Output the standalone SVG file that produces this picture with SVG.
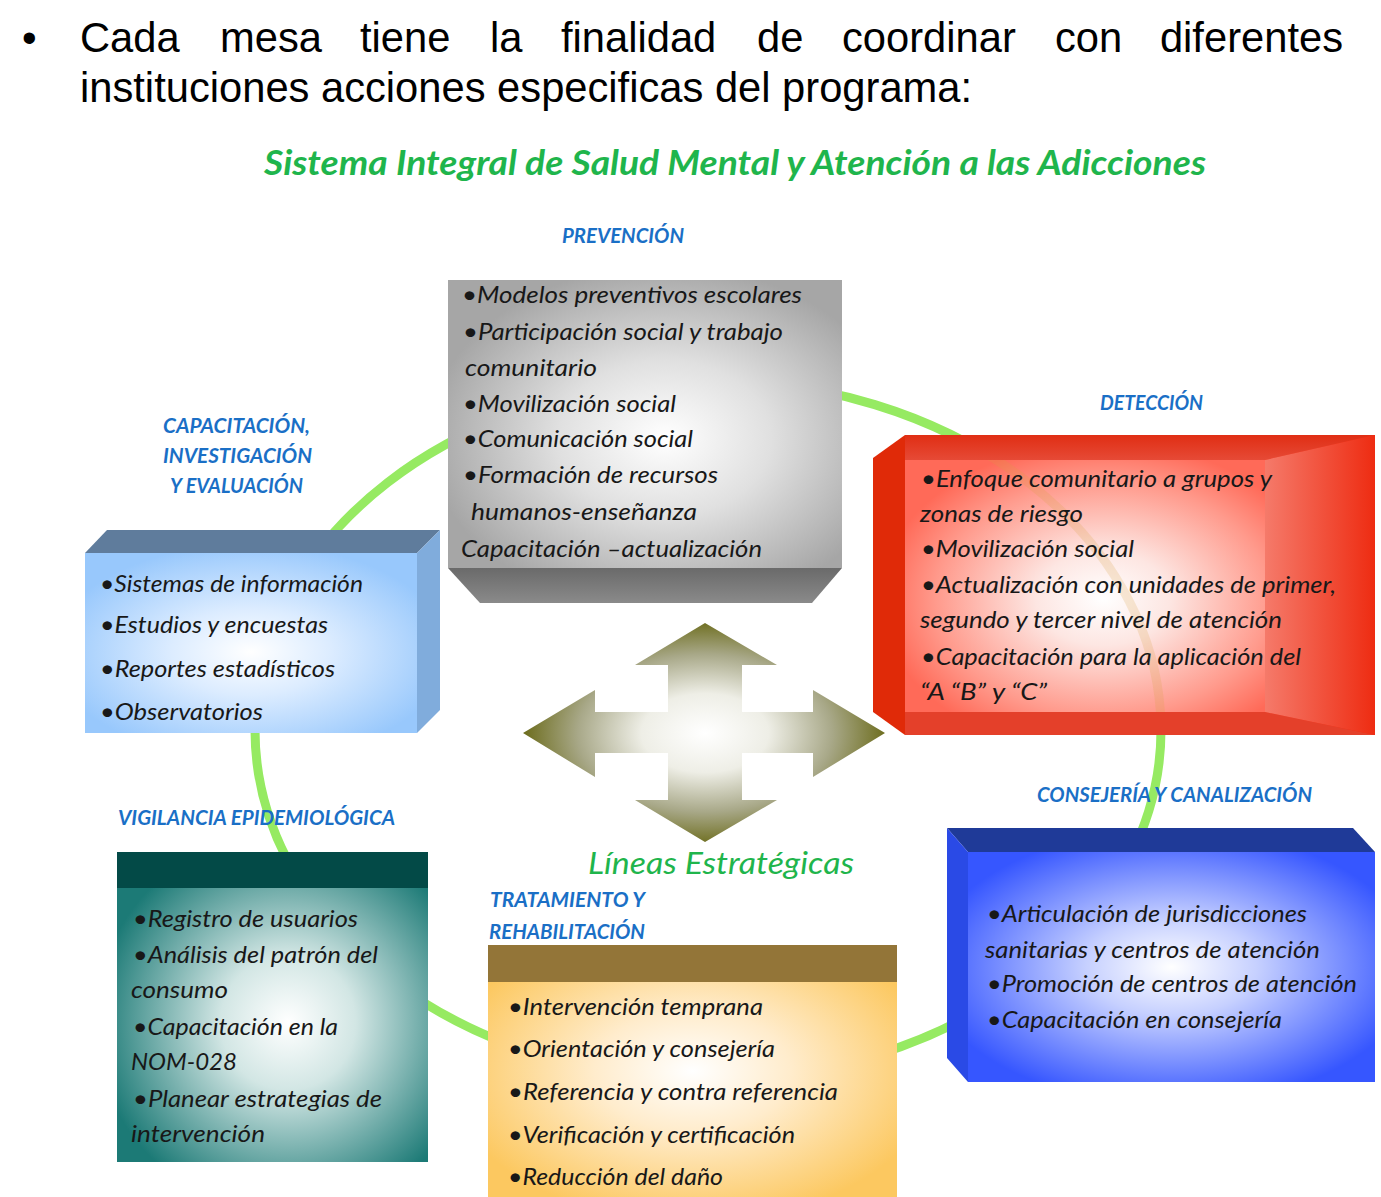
<svg xmlns="http://www.w3.org/2000/svg" width="1381" height="1197" viewBox="0 0 1381 1197">
<style>
.hdr{font-family:"Liberation Sans",Arial,sans-serif;font-size:41.7px;fill:#000}
.ttl{font-family:Lato,"Open Sans",sans-serif;font-style:italic;font-weight:bold;fill:#1fb54c}
.lbl{font-family:Lato,"Open Sans",sans-serif;font-style:italic;font-weight:bold;font-size:20px;fill:#1a6fc6}
.txt{font-family:Lato,"Open Sans",sans-serif;font-style:italic;font-size:24px;fill:#181818}
.ring{fill:none;stroke:#96ea62;stroke-width:9}
</style>
<defs>
<radialGradient id="gGray" cx="0.55" cy="0.55" r="0.6">
<stop offset="0" stop-color="#ffffff"/><stop offset="0.45" stop-color="#e0e0e0"/><stop offset="1" stop-color="#a6a6a6"/>
</radialGradient>
<linearGradient id="gGrayB" x1="0" y1="0" x2="0" y2="1">
<stop offset="0" stop-color="#6a6a6a"/><stop offset="1" stop-color="#8a8a8a"/>
</linearGradient>
<radialGradient id="gRed" cx="0.55" cy="0.55" r="0.62">
<stop offset="0" stop-color="#ffffff"/><stop offset="0.3" stop-color="#fde6e2"/><stop offset="0.75" stop-color="#ff9a8c"/><stop offset="1" stop-color="#ff6a58"/>
</radialGradient>
<linearGradient id="gRedR" x1="0" y1="0" x2="1" y2="0">
<stop offset="0" stop-color="#f57a6a"/><stop offset="1" stop-color="#ee2c12"/>
</linearGradient>
<linearGradient id="gRedT" x1="0" y1="0" x2="0" y2="1">
<stop offset="0" stop-color="#e02e14"/><stop offset="1" stop-color="#e64a36"/>
</linearGradient>
<radialGradient id="gLB" cx="0.5" cy="0.55" r="0.6">
<stop offset="0" stop-color="#ffffff"/><stop offset="0.4" stop-color="#dcecff"/><stop offset="1" stop-color="#98c8fc"/>
</radialGradient>
<radialGradient id="gTeal" cx="0.55" cy="0.55" r="0.62">
<stop offset="0" stop-color="#ffffff"/><stop offset="0.35" stop-color="#d2e6e4"/><stop offset="1" stop-color="#1c7a76"/>
</radialGradient>
<radialGradient id="gYel" cx="0.5" cy="0.5" r="0.6">
<stop offset="0" stop-color="#ffffff"/><stop offset="0.4" stop-color="#ffeccc"/><stop offset="1" stop-color="#fcc860"/>
</radialGradient>
<radialGradient id="gBlue" cx="0.5" cy="0.5" r="0.6">
<stop offset="0" stop-color="#ffffff"/><stop offset="0.35" stop-color="#c6d0ff"/><stop offset="1" stop-color="#3656ff"/>
</radialGradient>
<radialGradient id="gArrow" gradientUnits="userSpaceOnUse" cx="705" cy="733" r="182" gradientTransform="translate(705 733) scale(1 0.62) translate(-705 -733)">
<stop offset="0" stop-color="#ffffff"/><stop offset="0.35" stop-color="#eeeee6"/><stop offset="0.7" stop-color="#a8a888"/><stop offset="1" stop-color="#6c6c1c"/>
</radialGradient>
<clipPath id="clipRed"><rect x="905" y="460" width="360" height="252"/></clipPath>
</defs>

<rect width="1381" height="1197" fill="#fff"/>

<g id="header">
<text class="hdr" x="22" y="52">•</text>
<text class="hdr" x="80" y="52">Cada</text>
<text class="hdr" x="220" y="52">mesa</text>
<text class="hdr" x="360" y="52">tiene</text>
<text class="hdr" x="490" y="52">la</text>
<text class="hdr" x="561" y="52">finalidad</text>
<text class="hdr" x="757" y="52">de</text>
<text class="hdr" x="842" y="52">coordinar</text>
<text class="hdr" x="1055" y="52">con</text>
<text class="hdr" x="1343" y="52" text-anchor="end">diferentes</text>
<text class="hdr" x="80" y="102">instituciones acciones especificas del programa:</text>
</g>

<g id="title">
<text class="ttl" x="264" y="175" font-size="34" textLength="942" lengthAdjust="spacingAndGlyphs">Sistema Integral de Salud Mental y Atención a las Adicciones</text>
</g>

<g id="connectors">
<ellipse class="ring" cx="708" cy="730" rx="453" ry="350"/>
</g>

<g id="center-arrows">
<polygon fill="url(#gArrow)" points="705,623 777,665 742,665 742,712 813,712 813,690 885,733 813,777 813,753 742,753 742,800 777,800 705,842 635,800 668,800 668,753 595,753 595,777 523,733 595,690 595,712 668,712 668,665 635,665"/>
<text class="ttl" x="588" y="874" font-size="30" textLength="266" lengthAdjust="spacingAndGlyphs" style="font-weight:normal">Líneas Estratégicas</text>
</g>

<g id="prevencion">
<text class="lbl" x="562" y="243" textLength="122" lengthAdjust="spacingAndGlyphs">PREVENCIÓN</text>
<rect x="448" y="280" width="394" height="288" fill="url(#gGray)"/>
<polygon points="448,568 842,568 812,603 480,603" fill="url(#gGrayB)"/>
<text class="txt" x="462" y="303" textLength="340" lengthAdjust="spacingAndGlyphs">•Modelos preventivos escolares</text>
<text class="txt" x="463" y="340" textLength="320" lengthAdjust="spacingAndGlyphs">•Participación social y trabajo</text>
<text class="txt" x="465" y="376" textLength="132" lengthAdjust="spacingAndGlyphs">comunitario</text>
<text class="txt" x="463" y="412" textLength="213" lengthAdjust="spacingAndGlyphs">•Movilización social</text>
<text class="txt" x="463" y="447" textLength="230" lengthAdjust="spacingAndGlyphs">•Comunicación social</text>
<text class="txt" x="463" y="483" textLength="255" lengthAdjust="spacingAndGlyphs">•Formación de recursos</text>
<text class="txt" x="471" y="520" textLength="226" lengthAdjust="spacingAndGlyphs">humanos-enseñanza</text>
<text class="txt" x="461" y="557" textLength="301" lengthAdjust="spacingAndGlyphs">Capacitación –actualización</text>
</g>

<g id="deteccion">
<text class="lbl" x="1100" y="410" textLength="103" lengthAdjust="spacingAndGlyphs">DETECCIÓN</text>
<polygon points="873,458 905,435 905,735 873,712" fill="#e02a08"/>
<rect x="905" y="435" width="470" height="300" fill="#ee2c12"/>
<polygon points="905,435 1375,435 1265,460 905,460" fill="url(#gRedT)"/>
<polygon points="905,712 1265,712 1375,735 905,735" fill="#e4402a"/>
<polygon points="1265,460 1375,435 1375,735 1265,712" fill="url(#gRedR)"/>
<rect x="905" y="460" width="360" height="252" fill="url(#gRed)"/>
<ellipse cx="708" cy="730" rx="453" ry="350" fill="none" stroke="#d8a040" stroke-width="9" opacity="0.2" clip-path="url(#clipRed)"/>
<text class="txt" x="921" y="487" textLength="351" lengthAdjust="spacingAndGlyphs">•Enfoque comunitario a grupos y</text>
<text class="txt" x="920" y="522" textLength="163" lengthAdjust="spacingAndGlyphs">zonas de riesgo</text>
<text class="txt" x="921" y="557" textLength="213" lengthAdjust="spacingAndGlyphs">•Movilización social</text>
<text class="txt" x="921" y="593" textLength="415" lengthAdjust="spacingAndGlyphs">•Actualización con unidades de primer,</text>
<text class="txt" x="920" y="628" textLength="362" lengthAdjust="spacingAndGlyphs">segundo y tercer nivel de atención</text>
<text class="txt" x="921" y="665" textLength="380" lengthAdjust="spacingAndGlyphs">•Capacitación para la aplicación del</text>
<text class="txt" x="920" y="700" textLength="127" lengthAdjust="spacingAndGlyphs">“A “B” y “C”</text>
</g>

<g id="capacitacion">
<text class="lbl" x="163" y="433" textLength="147" lengthAdjust="spacingAndGlyphs">CAPACITACIÓN,</text>
<text class="lbl" x="163" y="463" textLength="149" lengthAdjust="spacingAndGlyphs">INVESTIGACIÓN</text>
<text class="lbl" x="170" y="493" textLength="133" lengthAdjust="spacingAndGlyphs">Y EVALUACIÓN</text>
<polygon points="85,553 107,530 440,530 417,553" fill="#5f7c9c"/>
<polygon points="417,553 440,530 440,710 417,733" fill="#80acdc"/>
<rect x="85" y="553" width="332" height="180" fill="url(#gLB)"/>
<text class="txt" x="100" y="592" textLength="263" lengthAdjust="spacingAndGlyphs">•Sistemas de información</text>
<text class="txt" x="100" y="633" textLength="228" lengthAdjust="spacingAndGlyphs">•Estudios y encuestas</text>
<text class="txt" x="100" y="677" textLength="235" lengthAdjust="spacingAndGlyphs">•Reportes estadísticos</text>
<text class="txt" x="100" y="720" textLength="163" lengthAdjust="spacingAndGlyphs">•Observatorios</text>
</g>

<g id="vigilancia">
<text class="lbl" x="118" y="825" textLength="277" lengthAdjust="spacingAndGlyphs">VIGILANCIA EPIDEMIOLÓGICA</text>
<rect x="117" y="852" width="311" height="310" fill="url(#gTeal)"/>
<rect x="117" y="852" width="311" height="36" fill="#034a47"/>
<text class="txt" x="133" y="927" textLength="225" lengthAdjust="spacingAndGlyphs">•Registro de usuarios</text>
<text class="txt" x="133" y="963" textLength="245" lengthAdjust="spacingAndGlyphs">•Análisis del patrón del</text>
<text class="txt" x="131" y="998" textLength="97" lengthAdjust="spacingAndGlyphs">consumo</text>
<text class="txt" x="133" y="1035" textLength="205" lengthAdjust="spacingAndGlyphs">•Capacitación en la</text>
<text class="txt" x="131" y="1070" textLength="106" lengthAdjust="spacingAndGlyphs">NOM-028</text>
<text class="txt" x="133" y="1107" textLength="249" lengthAdjust="spacingAndGlyphs">•Planear estrategias de</text>
<text class="txt" x="131" y="1142" textLength="134" lengthAdjust="spacingAndGlyphs">intervención</text>
</g>

<g id="tratamiento">
<text class="lbl" x="490" y="907" textLength="155" lengthAdjust="spacingAndGlyphs">TRATAMIENTO Y</text>
<text class="lbl" x="489" y="939" textLength="156" lengthAdjust="spacingAndGlyphs">REHABILITACIÓN</text>
<rect x="488" y="945" width="409" height="252" fill="url(#gYel)"/>
<rect x="488" y="945" width="409" height="37" fill="#937538"/>
<text class="txt" x="508" y="1015" textLength="255" lengthAdjust="spacingAndGlyphs">•Intervención temprana</text>
<text class="txt" x="508" y="1057" textLength="267" lengthAdjust="spacingAndGlyphs">•Orientación y consejería</text>
<text class="txt" x="508" y="1100" textLength="330" lengthAdjust="spacingAndGlyphs">•Referencia y contra referencia</text>
<text class="txt" x="508" y="1143" textLength="287" lengthAdjust="spacingAndGlyphs">•Verificación y certificación</text>
<text class="txt" x="508" y="1185" textLength="215" lengthAdjust="spacingAndGlyphs">•Reducción del daño</text>
</g>

<g id="consejeria">
<text class="lbl" x="1037" y="802" textLength="275" lengthAdjust="spacingAndGlyphs">CONSEJERÍA Y CANALIZACIÓN</text>
<polygon points="947,828 1353,828 1375,852 968,852" fill="#1f3a98"/>
<polygon points="947,828 968,852 968,1082 947,1058" fill="#2a4ae6"/>
<rect x="968" y="852" width="407" height="230" fill="url(#gBlue)"/>
<text class="txt" x="987" y="922" textLength="320" lengthAdjust="spacingAndGlyphs">•Articulación de jurisdicciones</text>
<text class="txt" x="985" y="958" textLength="335" lengthAdjust="spacingAndGlyphs">sanitarias y centros de atención</text>
<text class="txt" x="987" y="992" textLength="370" lengthAdjust="spacingAndGlyphs">•Promoción de centros de atención</text>
<text class="txt" x="987" y="1028" textLength="295" lengthAdjust="spacingAndGlyphs">•Capacitación en consejería</text>
</g>
</svg>
